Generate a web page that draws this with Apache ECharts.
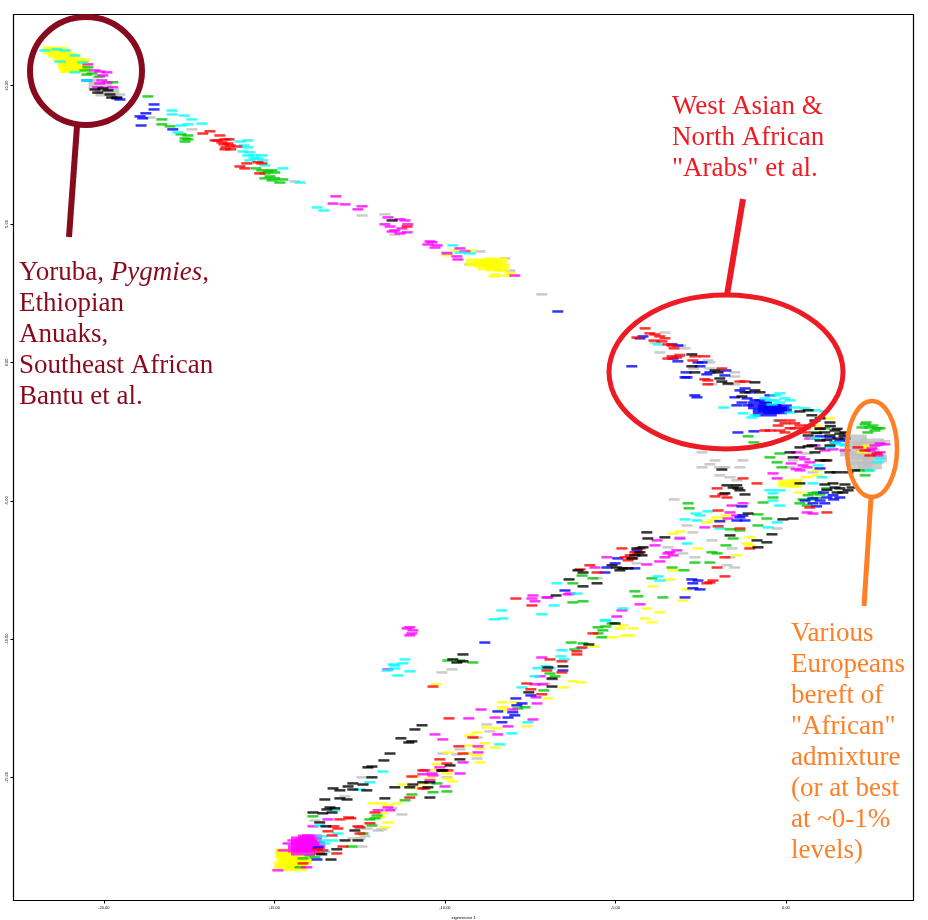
<!DOCTYPE html>
<html>
<head>
<meta charset="utf-8">
<style>
  html, body { margin: 0; padding: 0; background: #fff; }
  #chart { width: 928px; height: 920px; }
</style>
<script src="https://cdn.jsdelivr.net/npm/echarts@6/dist/echarts.min.js"></script>
</head>
<body>
<div id="chart"></div>
<script>
// tick labels on the axes (too small to read exactly in the picture)
var xTicks = [-20, -15, -10, -5, 0];
var yTicks = [10, 5, 0, -5, -10, -15];

// population labels by colour, [eigenvector 1, eigenvector 2]
var grayPts = [[-20.18,10.3],[-20.32,10.19],[-19.91,9.94],[-20.03,9.79],[-20.06,9.72],[-19.74,9.79],[-19.53,9.68],[-18.65,8.85],[-17.42,8.42],[-14.4,6.54],[-12.43,5.31],[-11.76,5.35],[-11.47,4.62],[-8.97,4.01],[-9.94,3.97],[-8.83,3.68],[-8.48,3.61],[-8.24,3.76],[-8.09,3.32],[-9.27,3.54],[-7.16,2.46],
[-3.55,1.08],[-3.84,0.72],[-3.7,0.36],[-3.08,0.61],[-2.96,0.51],[-3.11,0.29],[-2.29,0.07],[-2.23,0],[-2.23,-0.22],[-2.7,-0.22],[-1.5,-0.36],[-1.5,-0.51],[-1.5,-0.79],[-2.17,-0.79],[-1.7,-0.79],
[2.9,-2.85],[2.61,-2.89],[0.62,-3.29],[0.21,-3.54],[0.12,-3.79],[0.79,-3.97],[-2.46,-3.25],[-2.08,-3.54],[-2.23,-3.68],[-2.46,-3.79],[-1.94,-3.79],[-1.26,-3.54],[-1.35,-3.79],[-1.79,-3.79],[-1.64,-4.15],[-1.44,-4.26],[-3.28,-4.95],[-1.94,-4.08],
[-0.26,-6.0],[-2.9,-5.89],[-2.73,-6.14],[-2.17,-6.43],[-1.58,-6.72],[-1.64,-7.04],[-1.5,-7.41],[-1.73,-7.33],[-3.46,-6.68],[-3.02,-6.9],[-2.67,-7.04],[-4.37,-7.26],[-3.11,-6.32],[-5.54,-7.8],
[-9.79,-11.09],[-10.09,-11.2],[-6.83,-11.45],[-7.07,-11.6],[-8.77,-13.08],[-8.68,-13.33],[-9.06,-13.55],[-9.56,-13.98],[-10.06,-14.13],[-9.06,-14.31],[-9.65,-14.16],[-9.94,-14.99],
[-12.43,-14.99],[-12.93,-15.68],[-13.81,-16.55],[-11.96,-16.91],[-12.49,-17.2],[-12.7,-17.2],[-12.35,-17.12],[-12.43,-17.49],[-12.29,-16.84],[-11.26,-16.33],[-13.67,-17.34],[-11.55,-16.11],[-11.85,-16.87]];
var grayDense = [[2.11,-3.0],[2.32,-3.0],[2.52,-2.89],[2.11,-3.36],[2.4,-3.25],[2.23,-3.54],[2.61,-3.47],[2.02,-2.75],[2.46,-3.72],[2.17,-3.72],[1.94,-3.25],[-20.1,10.0],[-19.9,9.75]];

var yellowPts = [[-21.58,11.34],[-21.2,11.09],[-8.39,3.32],[-8.09,3.22],[-8.53,3.18],[-8.01,3.14],[-8.24,3.14],[-8.56,3.11],[-9.68,4.05],[-9.27,4.05],[-9.94,3.87],
[1.29,-2.02],[0.85,-2.28],[2.32,-3.07],[2.4,-3.0],[2.23,-3.25],[0.62,-4.15],[0.91,-3.9],[0.03,-4.37],[0.32,-4.26],[0.21,-4.48],[0.41,-4.7],[0.91,-4.08],
[-2.02,-5.6],[-2.32,-5.78],[-1.73,-5.53],[-1.88,-5.71],[-2.14,-5.71],[-3.11,-6.11],[-3.31,-6.18],[-1.06,-6.32],[-1.14,-6.54],[-1.06,-6.61],[-2.58,-6.72],[-1.44,-6.97],[-3.31,-7.51],[-3.4,-7.84],[-2.9,-8.2],[-3.9,-8.09],[-3.02,-8.6],[-3.7,-9.03],[-4.08,-8.89],[-4.13,-9.25],[-3.93,-9.39],[-4.78,-9.5],[-4.49,-9.61],[-4.72,-9.86],[-5.07,-9.93],[-4.87,-9.61],[-4.57,-9.86],
[-5.63,-10.26],[-6.51,-11.74],[-6.25,-11.52],[-6.01,-11.56],[-6.98,-12.14],[-10.26,-11.63],[-8.3,-12.28],[-8.3,-12.46],[-8.33,-12.57],[-7.95,-12.28],
[-8.77,-13.19],[-8.48,-13.22],[-7.6,-13.15],[-9.06,-13.37],[-9.27,-13.48],[-8.83,-13.76],[-8.97,-13.95],[-8.53,-13.91],[-9.27,-13.84],[-9.35,-14.13],[-9.06,-14.2],[-9.91,-14.09],[-8.97,-14.45],[-10.23,-14.52],[-10.29,-14.74],[-9.91,-15.03],[-10.44,-15.03],[-11.23,-15.25],[-10.94,-15.35],[-9.77,-15.14],
[-12.11,-15.93],[-11.85,-15.93],[-11.67,-16.0],[-11.82,-16.29],[-11.67,-16.62],[-11.91,-16.44],[-11.41,-15.93],[-11.76,-16.8],[-10.88,-14.96],[-9.94,-14.85],[-10.59,-15.21]];
var yellowDense = [[-21.44,11.27],[-21.29,11.16],[-21.15,11.05],[-21.06,10.98],[-20.94,10.87],[-20.75,10.85],[-20.82,10.77],[-21.0,10.75],[-20.76,10.66],[-20.88,10.62],[-20.95,10.6],[-9.03,3.61],[-8.8,3.58],[-8.68,3.47],[-8.53,3.65],[-8.45,3.43],[0.12,-4.37],[-14.6,-17.81],[-14.49,-17.88],[-14.55,-18.06],[-14.4,-18.06],[-14.25,-17.99],[-14.65,-18.17],[-14.4,-18.24],[-14.62,-17.7]];

var greenPts = [[-20.47,10.66],[-20.35,10.44],[-20.5,10.4],[-20.12,10.33],[-19.74,10.12],[-20.56,10.55],[-18.71,9.61],[-18.3,8.78],[-18.3,8.6],[-18.06,8.53],[-17.74,8.24],[-17.54,8.2],[-17.62,8.09],[-17.54,8.06],[-17.62,7.98],
[-15.54,7.01],[-15.37,6.94],[-15.19,6.9],[-15.07,6.94],[-15.28,6.83],[-14.99,6.86],[-15.13,6.72],[-14.99,6.65],[-14.75,6.61],[-15.07,6.58],[-15.28,6.65],[-14.84,6.5],
[-1.11,-2.67],[-0.94,-2.89],[0.85,-2.53],[1.14,-2.38],[2.32,-2.24],[2.46,-2.35],[2.61,-2.46],[2.23,-2.35],[2.4,-2.53],[2.67,-2.38],[2.76,-2.38],[2.35,-2.17],[2.55,-2.28],[2.4,-3.9],[2.17,-3.9],[2.32,-4.08],
[0.65,-4.8],[0.79,-4.73],[0.41,-5.09],[0.62,-5.17],[0.91,-4.7],[1.2,-4.55],[1.0,-4.77],[0.76,-4.95],[0.9,-4.9],[0.5,-4.95],[-0.67,-5.06],[-0.38,-4.88],[-0.47,-3.43],[-0.26,-3.61],[-0.12,-3.79],[-0.18,-3.29],
[-2.87,-5.09],[-2.84,-5.27],[-0.82,-5.49],[-0.56,-5.64],[-0.82,-5.89],[-1.64,-6.03],[-1.35,-6.07],[-1.55,-6.36],[-1.76,-6.61],[-2.17,-6.86],[-2.02,-6.9],[-2.23,-7.23],[-2.67,-7.23],[-2.99,-7.51],[-3.93,-7.8],[-3.34,-7.41],[-5.98,-7.7],[-6.25,-7.98],[-6.25,-8.67],[-5.95,-8.63],[-5.66,-7.8],[-4.43,-8.27],[-4.34,-8.45],[-3.61,-8.49],[-5.1,-9.43],[-5.37,-9.68],[-5.51,-9.57],[-5.4,-9.93],[-5.51,-9.79],[-5.28,-9.54],
[-6.3,-10.12],[-5.95,-10.15],[-6.19,-10.37],[-9.91,-10.77],[-9.56,-10.77],[-9.18,-10.84],[-6.92,-11.24],[-6.77,-11.34],[-7.1,-11.85],[-7.65,-12.46],[-7.86,-12.5],
[-10.23,-15.21],[-9.94,-15.5],[-10.35,-15.53],[-10.97,-15.61],[-11.17,-15.82],[-11.99,-16.37],[-12.05,-16.47],[-12.2,-16.51],[-12.14,-16.73],[-12.4,-17.02],[-13.87,-16.4],[-12.73,-17.49],[-14.16,-17.92],[-14.25,-18.24],[-13.96,-17.81],[-13.81,-17.88]];

var redPts = [[-17.1,8.27],[-16.89,8.35],[-16.6,8.2],[-16.45,8.06],[-16.66,8.02],[-16.54,7.95],[-16.36,7.91],[-16.74,8.02],[-16.3,7.84],[-16.48,7.88],[-16.42,7.77],[-16.28,7.7],[-16.45,7.7],[-16.1,7.8],[-16.33,8.06],
[-15.81,7.19],[-15.48,7.23],[-15.37,7.19],[-16.01,7.08],[-15.87,7.01],[-15.43,6.83],[-11.11,4.91],
[-4.13,1.23],[-3.99,1.05],[-3.84,1.01],[-3.7,0.94],[-4.37,0.9],[-3.55,0.87],[-3.87,0.79],[-3.64,0.76],[-3.46,0.65],[-3.34,0.61],[-3.28,0.51],[-3.34,0.22],[-3.2,0.18],[-2.67,0.22],[-2.38,0.22],[-3.46,0.14],[-3.11,0.25],[-2.73,0.07],[-1.88,-0.22],[-2.38,-0.61],[-2.29,-0.65],[-1.35,-0.69],[-1.2,-0.69],[-2.29,-0.79],
[-0.18,-2.1],[0.12,-2.1],[-0.03,-2.2],[0.26,-2.2],[0.41,-2.28],[0.12,-2.38],[-0.18,-2.46],[-0.47,-2.46],[-0.03,-2.53],[0.26,-2.38],[-0.23,-2.28],[0.56,-2.38],[0.7,-2.28],[-0.62,-2.46],[1.0,-2.38],[0.56,-2.53],
[2.46,-3.36],[2.67,-3.29],[2.32,-3.18],[2.11,-3.07],[1.14,-3.54],[0.7,-5.24],[1.2,-5.42],[-1.26,-4.19],[-0.85,-4.37],[-2.02,-4.55],[-2.08,-4.84],[-1.85,-4.77],[-1.73,-4.88],
[-1.99,-5.35],[-1.99,-5.92],[-1.35,-6.0],[-1.79,-7.04],[-2.02,-7.41],[-1.79,-7.73],[-1.06,-6.72],[-2.14,-7.88],[-2.23,-7.95],[-2.32,-7.98],
[-4.81,-6.72],[-4.43,-6.86],[-4.57,-6.97],[-4.63,-7.15],[-4.28,-6.72],[-4.49,-7.08],[-4.72,-7.04],[-5.75,-7.33],[-5.54,-7.59],[-6.04,-7.48],[-4.34,-6.9],
[-7.92,-8.53],[-7.45,-8.78],[-5.66,-9.79],[-6.13,-10.44],[-6.13,-10.55],[-5.98,-10.3],[-6.92,-10.73],[-6.57,-10.8],[-7.01,-11.13],[-6.57,-11.2],[-7.6,-11.6],[-7.48,-11.81],[-7.16,-11.99],[-10.35,-11.71],[-9.88,-12.86],[-9.18,-13.55],
[-9.59,-13.87],[-9.47,-14.13],[-10.15,-14.34],[-9.94,-14.49],[-9.91,-14.74],[-10.59,-15.39],[-10.97,-14.96],[-10.65,-14.74],[-10.09,-14.74],[-10.65,-15.39],[-11.03,-15.72],
[-13.08,-16.51],[-12.82,-16.44],[-12.76,-16.47],[-13.26,-16.76],[-13.14,-16.84],[-13.43,-16.94],[-13.31,-17.09],[-12.99,-17.49],[-13.17,-17.74],[-12.55,-16.76],[-12.05,-16.26],[-12.2,-16.65],[-12.49,-17.02],[-13.75,-17.59],[-13.67,-17.74],[-14.16,-18.1],[-13.58,-17.63],[-12.49,-16.8]];

var magentaPts = [[-20.47,10.77],[-20.12,10.51],[-19.91,10.48],[-20.06,10.19],[-19.91,10.12],[-20.18,9.94],[-19.74,9.94],[-20.26,10.55],[-20.03,10.37],[-20.12,10.08],
[-13.2,6.0],[-13.28,5.74],[-12.93,5.71],[-12.43,5.64],[-12.55,5.53],[-11.67,5.24],[-11.17,5.13],[-11.76,4.99],[-11.32,5.17],[-11.61,4.91],[-11.26,4.84],[-11.55,4.73],[-11.09,4.99],[-11.47,4.77],[-11.32,4.66],[-11.11,4.7],
[-10.44,4.37],[-10.38,4.34],[-10.23,4.23],[-10.5,4.26],[-10.29,4.15],[-9.56,4.12],[-9.41,4.01],[-9.94,3.94],[-9.65,3.83],[-9.62,3.72],[-7.95,3.14],
[0.85,-3.0],[1.14,-3.18],[0.7,-2.75],[1.73,-3.18],[1.38,-3.14],[2.61,-3.0],[2.76,-2.93],[2.9,-2.96],[2.52,-3.11],[2.7,-3.36],[2.76,-3.25],[2.46,-3.18],
[0.41,-3.9],[0.62,-3.79],[-0.38,-4.01],[-0.26,-4.19],[0.41,-3.43],[0.32,-3.25],[0.7,-3.61],[0.62,-5.42],[0.79,-5.46],[0.5,-3.72],[0.15,-3.65],[0.3,-3.85],[0.55,-3.5],
[-1.64,-5.42],[-1.44,-5.53],[-1.7,-5.64],[-1.58,-5.17],[-1.26,-5.09],[-2.38,-5.96],
[-3.78,-6.43],[-3.84,-6.61],[-3.11,-6.36],[-3.4,-6.86],[-3.55,-7.04],[-3.31,-6.97],[-3.2,-6.79],[-4.08,-7.3],[-3.7,-7.19],[-5.6,-7.41],[-5.25,-7.04],[-7.01,-8.49],[-6.33,-8.35],[-4.28,-8.74],[-4.81,-8.96],[-4.96,-9.18],[-3.46,-6.9],
[-7.42,-8.42],[-7.45,-8.53],[-7.36,-8.63],[-6.98,-8.49],[-6.39,-8.38],
[-11.67,-11.09],[-7.16,-10.66],[-7.21,-11.34],[-7.36,-11.63],[-7.13,-11.63],[-7.33,-12.1],[-8.94,-12.54],[-7.3,-12.32],[-7.42,-12.9],[-8.01,-12.54],[-8.53,-12.83],[-9.3,-12.86],[-10.29,-13.44],[-10.06,-13.62],[-8.15,-13.15],[-8.45,-13.44],[-9.03,-13.87],[-9.03,-14.09],[-9.47,-14.45],[-9.56,-14.85],[-10.38,-14.85],[-10.59,-14.74],[-10.44,-15.1],[-10.0,-15.32],[-10.65,-14.88],[-10.35,-14.92],[-10.15,-14.63],
[-11.96,-16.18],[-11.61,-16.18],[-11.67,-16.08],[-13.43,-16.51],[-13.87,-16.76],[-14.02,-17.09],[-14.9,-18.35],[-14.05,-18.24],[-14.46,-17.27],[-14.6,-17.38],[-14.75,-17.63],
[-11.03,-9.57],[-11.11,-9.61],[-10.94,-9.68],[-10.97,-9.79],[-11.03,-9.86]];
var magentaDense = [[-14.16,-17.27],[-13.96,-17.2],[-14.16,-17.45],[-14.02,-17.38],[-14.25,-17.56],[-14.02,-17.56],[-13.87,-17.45],[-14.16,-17.67]];

var bluePts = [[-20.5,10.19],[-19.53,9.5],[-19.62,9.54],[-18.53,9.32],[-18.53,9.14],[-18.77,9.0],[-18.94,8.89],[-18.86,8.82],[-18.91,8.56],[-17.98,8.42],[-6.69,1.84],
[-4.19,0.94],[-4.28,0.87],[-3.34,0.65],[-3.17,0.61],[-3.31,0.14],[-3.17,0.04],[-2.58,0],[-2.52,-0.14],[-2.46,0],[-2.93,-0.36],[-2.32,-0.43],[-2.23,-0.36],[-1.79,-0.47],[-1.76,-0.29],[-4.52,-0.14],[-2.96,-0.54],[-2.9,-0.54],[-2.67,-1.19],[-2.61,-1.26],[-1.41,-2.53],[-0.94,-2.49],
[-1.35,-1.01],[-1.06,-1.08],[-1.5,-1.26],[-1.14,-1.3],[-0.91,-1.37],[-0.76,-1.37],[-1.29,-1.45],[-0.47,-1.19],[-0.62,-1.45],[-0.32,-1.55],[-0.53,-1.66],[-0.41,-1.73],[-0.18,-1.66],[-0.32,-1.81],[-0.47,-1.59],[-1.44,-1.55],[-1.11,-1.55],[-1.2,-0.94],
[1.29,-2.71],[1.58,-2.82],[1.73,-2.75],[1.0,-2.67],[1.44,-2.89],
[0.79,-4.91],[1.0,-4.99],[1.2,-4.88],[1.38,-4.8],[0.79,-5.09],[1.58,-4.88],[1.0,-3.83],[0.56,-4.99],[1.14,-5.09],[1.1,-4.7],[1.4,-4.95],[0.9,-5.2],
[-1.35,-5.6],[-1.44,-5.71],[-1.26,-5.53],[-1.29,-5.2],[-1.94,-5.74],[-1.2,-5.71],
[-4.37,-6.79],[-4.93,-7.08],[-5.25,-7.41],[-5.31,-7.59],[-5.01,-7.26],[-4.43,-7.44],[-6.48,-8.24],[-2.76,-7.84],[-2.58,-7.88],[-2.73,-8.16],[-2.52,-8.2],[-2.96,-8.49],[-2.73,-7.98],
[-8.83,-10.12],[-6.54,-11.13],[-7.48,-12.03],[-7.92,-12.14],[-7.74,-12.32],[-7.89,-12.39],[-8.45,-12.61],[-7.95,-12.75],[-8.15,-12.83],[-8.01,-12.64],[-8.33,-13.0],[-13.72,-17.52],[-13.75,-17.96]];
var blueDense = [[-0.76,-1.55],[-0.47,-1.66],[-0.32,-1.73],[-0.62,-1.81],[-0.18,-1.66]];

var blackPts = [[-20.26,9.86],[-20.03,9.9],[-20.18,9.75],[-19.82,9.68],[-19.77,9.57],[-19.62,9.57],[-19.88,9.83],[-11.55,5.13],[-2.76,0.29],[-2.76,-0.14],[-1.99,-0.36],[-2.08,-0.29],[-2.67,-0.36],[-1.94,-0.58],[-1.88,-0.69],[-0.91,-0.72],[-1.7,-0.76],[-0.91,-1.01],[-0.76,-1.08],[-1.2,-1.08],[-1.29,-1.23],
[0.41,-1.77],[0.65,-1.73],[0.76,-1.91],[0.85,-2.1],[1.0,-2.02],[1.29,-2.17],[1.52,-2.75],[1.0,-2.82],[0.76,-3.0],[0.65,-3.03],[1.29,-3.0],[1.0,-3.11],[0.85,-3.25],[0.65,-2.64],[2.02,-3.9],[1.82,-3.97],
[1.44,-2.46],[1.58,-2.57],[1.29,-2.64],[1.73,-2.53],[1.14,-2.53],[1.0,-2.4],[1.3,-2.3],[1.5,-2.4],[1.7,-2.65],[1.2,-2.8],[0.9,-2.55],
[0.21,-3.43],[0.41,-3.07],[1.0,-3.54],[1.2,-3.54],[0.41,-4.37],[0.12,-3.25],[1.14,-4.41],[1.38,-4.37],[1.58,-4.55],[1.82,-4.62],[1.67,-4.7],[1.94,-4.52],[1.29,-3.97],[1.5,-3.97],[1.44,-4.52],[1.73,-4.41],[1.5,-4.7],[1.2,-4.6],
[-1.88,-3.87],[-1.73,-4.44],[-1.44,-4.44],[-1.41,-4.55],[-1.35,-4.62],[-1.79,-4.73],[-1.2,-4.77],[-1.55,-4.52],
[-1.11,-5.46],[-0.09,-5.67],[0.21,-5.64],[-0.41,-6.21],[-0.56,-6.5],[-0.85,-6.43],[-0.82,-6.68],[-1.64,-6.25],
[-4.08,-6.14],[-4.05,-6.36],[-3.55,-6.32],[-4.37,-6.72],[-4.19,-6.68],[-4.28,-6.86],[-4.22,-6.97],[-4.52,-7.08],[-4.43,-6.97],[-4.87,-7.51],[-4.96,-7.41],[-4.78,-7.44],[-5.1,-7.33],[-5.95,-7.59],[-6.1,-7.51],[-5.54,-7.98],[-6.36,-7.84],[-6.74,-8.42],[-5.95,-8.09],[-5.01,-9.43],[-4.63,-7.44],
[-5.78,-10.19],[-9.47,-10.55],[-9.77,-10.73],[-9.47,-10.8],[-9.65,-10.84],[-6.98,-11.02],[-6.54,-10.98],[-6.86,-11.42],[-6.86,-11.71],[-7.54,-11.92],[-10.67,-13.11],[-10.88,-13.26],[-11.29,-13.58],[-10.97,-13.69],[-11.06,-13.73],[-11.61,-14.13],[-11.79,-14.38],[-12.14,-14.6],[-12.14,-14.99],[-11.47,-15.35],
[-9.56,-14.34],[-9.85,-14.56],[-10.09,-14.74],[-10.65,-15.17],[-10.94,-15.25],[-10.5,-15.35],[-11.03,-15.35],[-10.06,-14.74],[-10.44,-15.17],[-10.44,-15.72],
[-12.26,-14.63],[-12.7,-15.21],[-12.84,-15.32],[-12.4,-15.25],[-12.29,-15.46],[-12.7,-15.43],[-13.08,-15.46],[-13.28,-15.39],[-13.08,-15.75],[-12.87,-15.79],[-13.52,-15.79],[-13.37,-16.08],[-13.23,-16.11],[-13.46,-16.15],[-13.31,-16.26],[-13.58,-16.29],[-13.87,-16.26],[-13.67,-16.62],[-13.49,-16.76],[-12.64,-16.91],[-12.93,-17.27],[-12.55,-17.27],[-13.17,-17.59],[-13.34,-17.96],[-11.76,-15.75],[-13.61,-17.77]];

var cyanPts = [[-21.38,11.31],[-21.14,11.27],[-21.73,11.27],[-20.85,11.09],[-21.29,10.87],[-20.62,10.84],[-20.85,10.48],[-20.5,10.19],[-18.0,9.1],[-18.0,8.96],[-17.65,8.92],[-17.42,8.78],[-17.13,8.63],[-17.54,8.6],[-17.74,8.56],[-17.83,8.31],
[-16.01,7.98],[-15.78,8.02],[-15.89,7.84],[-15.78,7.77],[-15.92,7.62],[-15.72,7.59],[-15.6,7.48],[-15.78,7.48],[-15.48,7.37],[-15.6,7.37],[-15.37,7.48],[-15.34,7.3],[-15.72,7.3],[-15.28,7.12],[-14.75,7.01],[-14.25,6.5],[-13.75,5.6],[-13.55,5.49],[-9.77,4.23],[-9.56,3.97],[-9.27,3.94],
[-3.75,0.65],[-0.32,-1.19],[-0.18,-1.12],[-0.03,-1.3],[-0.47,-1.37],[-0.32,-1.37],[-0.18,-1.45],[0.12,-1.37],[-1.82,-1.63],[-1.26,-1.84],[-0.91,-1.91],[-1.0,-1.99],[0.26,-1.63],[0.56,-1.66],[0.85,-1.73],[1.14,-1.77],[0.12,-1.81],[-0.23,-2.1],[-0.62,-1.3],[-0.41,-1.52],
[1.44,-2.89],[1.58,-2.96],[1.29,-3.07],[1.73,-3.0],[0.85,-2.75],[2.76,-3.47],[2.7,-3.61],[2.46,-3.9],[-0.38,-4.73],[-0.18,-4.62],[-0.47,-4.62],[0.94,-3.72],[0.79,-4.37],[1.06,-4.15],[-0.38,-4.99],[-0.18,-5.17],
[-2.64,-5.46],[-2.29,-5.38],[-2.96,-5.67],[-2.61,-5.71],[-2.52,-5.53],[-0.53,-5.96],[-0.26,-5.78],[-1.94,-6.0],[-2.9,-6.54],[-3.75,-7.73],[-3.7,-7.88],[-6.72,-7.98],[-6.13,-8.35],[-6.8,-8.78],[-7.16,-9.1],[-4.78,-8.89],[-5.31,-9.32],[-8.33,-8.96],[-8.56,-9.28],[-8.3,-9.25],[-5.28,-9.32],
[-11.17,-10.73],[-11.23,-10.87],[-11.47,-10.95],[-11.47,-11.06],[-11.7,-11.13],[-11.03,-11.16],[-11.38,-11.31],[-11.52,-10.91],[-6.57,-10.4],[-6.6,-10.62],[-6.51,-10.73],[-6.04,-10.33],[-7.04,-10.98],[-7.27,-11.05],[-6.92,-11.05],[-7.36,-11.34],[-7.74,-11.74],[-7.57,-13.0],[-8.04,-13.4],[-8.39,-13.8],
[-11.82,-14.78],[-12.2,-15.17],[-12.49,-15.43],[-13.23,-16.18],[-13.67,-16.73],[-13.14,-17.02],[-13.28,-17.27],[-13.61,-17.12],[-13.52,-17.38],[-13.52,-17.67],[-13.58,-17.27]];

// hand drawn notes laid over the plot
var noteMaroon = ['Yoruba, {i|Pygmies},', 'Ethiopian', 'Anuaks,', 'Southeast African', 'Bantu et al.'];
var noteRed = ['West Asian &', 'North African', '"Arabs" et al.'];
var noteOrange = ['Various', 'Europeans', 'bereft of', '"African"', 'admixture', '(or at best', 'at ~0-1%', 'levels)'];

var myChart = echarts.init(document.getElementById('chart'));

function labelSeries(name, color, points, size) {
	return {
		name: name,
		type: 'scatter',
		data: points,
		symbol: 'rect',
		symbolSize: size,
		silent: true,
		itemStyle: { color: color }
	};
}

function note(lines, x, y, color) {
	var out = [];
	for (var i = 0; i < lines.length; i++) {
		out.push({
			type: 'text',
			x: x,
			y: y + i * 31,
			z: 20,
			style: {
				text: lines[i],
				fill: color,
				font: '27px "Liberation Serif"',
				textVerticalAlign: 'middle',
				rich: { i: { fill: color, font: 'italic 27px "Liberation Serif"' } }
			}
		});
	}
	return out;
}

function ring(cx, cy, rx, ry, color, width) {
	return { type: 'ellipse', z: 20, shape: { cx: cx, cy: cy, rx: rx, ry: ry }, style: { fill: null, stroke: color, lineWidth: width } };
}

function stroke(x1, y1, x2, y2, color, width) {
	return { type: 'line', z: 20, shape: { x1: x1, y1: y1, x2: x2, y2: y2 }, style: { stroke: color, lineWidth: width } };
}

var LABEL_SIZE = [11, 2.5];
var DENSE_SIZE = [24, 8];

var option = {
	animation: false,
	backgroundColor: '#fff',
	grid: { left: 13.5, right: 14.5, top: 14.5, bottom: 19.5, show: true, borderColor: '#000', borderWidth: 1.2, backgroundColor: 'transparent', outerBoundsMode: 'none', containLabel: false },
	xAxis: {
		type: 'value',
		min: -22.65,
		max: 3.74,
		name: 'eigenvector 1',
		nameLocation: 'middle',
		nameGap: 15,
		nameTextStyle: { fontSize: 4, color: '#000', fontFamily: 'Liberation Sans' },
		splitLine: { show: false },
		axisLine: { show: false, onZero: false },
		axisTick: { show: true, length: 3, customValues: xTicks, lineStyle: { color: '#000' } },
		axisLabel: { fontSize: 4, color: '#000', margin: 5, fontFamily: 'Liberation Sans', customValues: xTicks, formatter: function(v) { return v.toFixed(2); } }
	},
	yAxis: {
		type: 'value',
		min: -19.44,
		max: 12.57,
		name: 'eigenvector 2',
		nameLocation: 'middle',
		nameGap: 9,
		nameRotate: 90,
		nameTextStyle: { fontSize: 4, color: '#000', fontFamily: 'Liberation Sans' },
		splitLine: { show: false },
		axisLine: { show: false, onZero: false },
		axisTick: { show: true, length: 3, customValues: yTicks, lineStyle: { color: '#000' } },
		axisLabel: { fontSize: 4, color: '#000', margin: 5, rotate: 90, fontFamily: 'Liberation Sans', customValues: yTicks, formatter: function(v) { return v.toFixed(2); } }
	},
	series: [
		labelSeries('gray dense', '#bebebe', grayDense, DENSE_SIZE),
		labelSeries('gray', '#bebebe', grayPts, LABEL_SIZE),
		labelSeries('yellow dense', '#ffff00', yellowDense, DENSE_SIZE),
		labelSeries('yellow', '#ffff00', yellowPts, LABEL_SIZE),
		labelSeries('green', '#00c800', greenPts, LABEL_SIZE),
		labelSeries('magenta dense', '#ff00ff', magentaDense, DENSE_SIZE),
		labelSeries('magenta', '#ff00ff', magentaPts, LABEL_SIZE),
		labelSeries('blue dense', '#0000ff', blueDense, DENSE_SIZE),
		labelSeries('blue', '#0000ff', bluePts, LABEL_SIZE),
		labelSeries('cyan', '#00ffff', cyanPts, LABEL_SIZE),
		labelSeries('red', '#ff0000', redPts, LABEL_SIZE),
		labelSeries('black', '#000000', blackPts, LABEL_SIZE)
	],
	graphic: [
		ring(86, 71, 56, 54, '#880a1e', 6),
		stroke(77, 126, 69, 237, '#880a1e', 6),
		ring(726, 372, 117, 77, '#ed1c24', 5),
		stroke(743, 199, 727, 295, '#ed1c24', 6),
		ring(872, 449, 25, 48, '#ff7f27', 4.5),
		stroke(871, 498, 864, 606, '#ff7f27', 5)
	].concat(note(noteMaroon, 19, 273, '#880a1e'), note(noteRed, 672, 107, '#ed1c24'), note(noteOrange, 791, 634, '#ff7f27'))
};

myChart.setOption(option);
</script>
</body>
</html>
